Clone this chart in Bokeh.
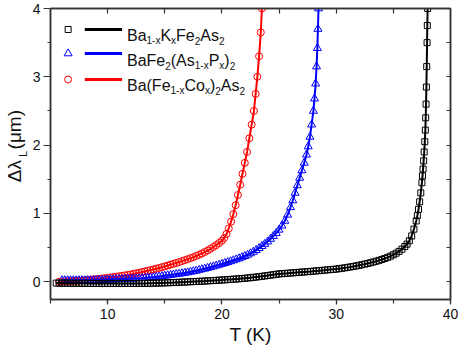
from bokeh.plotting import figure
from bokeh.models import Range1d, LinearAxis, SingleIntervalTicker, FixedTicker
from bokeh.core.properties import value
from bokeh.embed import file_html
from bokeh.resources import INLINE

# ---------------- data ----------------
# Ba1-xKxFe2As2
k_T = [5.5, 5.75, 6.0, 6.25, 6.5, 6.75, 7.0, 7.25, 7.5, 7.75, 8.0, 8.25, 8.5, 8.75, 9.0, 9.25, 9.5, 9.75,
       10.0, 10.25, 10.5, 10.75, 11.0, 11.25, 11.5, 11.75, 12.0, 12.25, 12.5, 12.75, 13.0, 13.25, 13.5, 13.75, 14.0, 14.25, 14.5, 14.75,
       15.0, 15.25, 15.5, 15.75, 16.0, 16.25, 16.5, 16.75, 17.0, 17.25, 17.5, 17.75, 18.0, 18.25, 18.5, 18.75, 19.0, 19.25, 19.5, 19.75,
       20.0, 20.25, 20.5, 20.75, 21.0, 21.25, 21.5, 21.75, 22.0, 22.25, 22.5, 22.75, 23.0, 23.25, 23.5, 23.75, 24.0, 24.25, 24.5, 24.75,
       25.0, 25.25, 25.5, 25.75, 26.0, 26.25, 26.5, 26.75, 27.0, 27.25, 27.5, 27.75, 28.0, 28.25, 28.5, 28.75, 29.0, 29.25, 29.5, 29.75,
       30.0, 30.25, 30.5, 30.75, 31.0, 31.25, 31.5, 31.75, 32.0, 32.25, 32.5, 32.75, 33.0, 33.25, 33.5, 33.75, 34.0, 34.25, 34.5, 34.75,
       35.0, 35.25, 35.5, 35.75, 36.0, 36.2, 36.4, 36.6, 36.8, 37.0, 37.1, 37.2, 37.3, 37.4, 37.5, 37.55, 37.6, 37.65, 37.7,
       37.75, 37.8, 37.83, 37.86, 37.89, 37.92, 37.95, 37.97, 38.0]
k_dl = [-0.02, -0.02, -0.021, -0.021, -0.021, -0.022, -0.022, -0.022, -0.023, -0.023, -0.023, -0.024, -0.024, -0.024, -0.025, -0.025, -0.025, -0.025,
        -0.025, -0.025, -0.025, -0.025, -0.025, -0.025, -0.025, -0.025, -0.025, -0.025, -0.025, -0.025, -0.025, -0.024, -0.023, -0.022, -0.021, -0.02, -0.019, -0.018,
        -0.016, -0.015, -0.013, -0.012, -0.01, -0.008, -0.006, -0.004, -0.002, 0.0, 0.002, 0.004, 0.006, 0.008, 0.01, 0.013, 0.015, 0.018, 0.02, 0.023,
        0.025, 0.028, 0.031, 0.034, 0.037, 0.04, 0.043, 0.047, 0.051, 0.055, 0.059, 0.064, 0.069, 0.074, 0.079, 0.085, 0.091, 0.097, 0.103, 0.109,
        0.115, 0.118, 0.121, 0.124, 0.128, 0.131, 0.134, 0.138, 0.141, 0.144, 0.148, 0.151, 0.155, 0.159, 0.162, 0.166, 0.17, 0.174, 0.178, 0.181,
        0.185, 0.191, 0.197, 0.204, 0.21, 0.217, 0.224, 0.232, 0.24, 0.249, 0.258, 0.268, 0.278, 0.289, 0.3, 0.313, 0.326, 0.341, 0.356, 0.375,
        0.395, 0.418, 0.444, 0.476, 0.515, 0.55, 0.6, 0.67, 0.77, 0.89, 0.97, 1.06, 1.17, 1.3, 1.45, 1.55, 1.65, 1.77, 1.9,
        2.05, 2.22, 2.4, 2.6, 2.85, 3.15, 3.5, 3.75, 4.0]

# BaFe2(As1-xPx)2
p_T = [6.0, 6.25, 6.5, 6.75, 7.0, 7.25, 7.5, 7.75, 8.0, 8.25, 8.5, 8.75, 9.0, 9.25, 9.5, 9.75,
       10.0, 10.25, 10.5, 10.75, 11.0, 11.25, 11.5, 11.75, 12.0, 12.25, 12.5, 12.75, 13.0, 13.25, 13.5, 13.75, 14.0, 14.25, 14.5, 14.75,
       15.0, 15.25, 15.5, 15.75, 16.0, 16.25, 16.5, 16.75, 17.0, 17.25, 17.5, 17.75, 18.0, 18.25, 18.5, 18.75, 19.0, 19.25, 19.5, 19.75,
       20.0, 20.25, 20.5, 20.75, 21.0, 21.25, 21.5, 21.75, 22.0, 22.25, 22.5, 22.75, 23.0, 23.25, 23.5, 23.75, 24.0, 24.25, 24.5, 24.75,
       25.0, 25.25, 25.5, 25.75, 26.0, 26.2, 26.4, 26.6, 26.8, 27.0, 27.2, 27.4, 27.55, 27.7, 27.85, 28.0, 28.1, 28.2,
       28.28, 28.35, 28.4, 28.45]
p_dl = [0.02, 0.02, 0.02, 0.02, 0.02, 0.02, 0.02, 0.02, 0.02, 0.021, 0.022, 0.023, 0.024, 0.025, 0.026, 0.028,
        0.03, 0.032, 0.033, 0.035, 0.037, 0.038, 0.04, 0.041, 0.043, 0.045, 0.047, 0.049, 0.051, 0.054, 0.057, 0.061, 0.065, 0.07, 0.075, 0.08,
        0.086, 0.092, 0.098, 0.104, 0.11, 0.116, 0.122, 0.129, 0.136, 0.144, 0.152, 0.16, 0.172, 0.181, 0.19, 0.201, 0.212, 0.223, 0.235, 0.247,
        0.26, 0.272, 0.285, 0.298, 0.312, 0.326, 0.341, 0.357, 0.374, 0.393, 0.414, 0.437, 0.462, 0.49, 0.52, 0.553, 0.588, 0.626, 0.667, 0.712,
        0.76, 0.82, 0.89, 0.98, 1.09, 1.19, 1.3, 1.41, 1.52, 1.63, 1.74, 1.86, 1.98, 2.12, 2.3, 2.5, 2.68, 2.9,
        3.15, 3.42, 3.7, 4.0]

# Ba(Fe1-xCox)2As2
co_T = [5.75, 6.0, 6.25, 6.5, 6.75, 7.0, 7.25, 7.5, 7.75, 8.0, 8.25, 8.5, 8.75, 9.0, 9.25, 9.5, 9.75,
        10.0, 10.25, 10.5, 10.75, 11.0, 11.25, 11.5, 11.75, 12.0, 12.25, 12.5, 12.75, 13.0, 13.25, 13.5, 13.75, 14.0, 14.25, 14.5, 14.75,
        15.0, 15.25, 15.5, 15.75, 16.0, 16.25, 16.5, 16.75, 17.0, 17.25, 17.5, 17.75, 18.0, 18.25, 18.5, 18.75, 19.0, 19.25, 19.5, 19.75,
        20.0, 20.2, 20.4, 20.6, 20.8, 21.0, 21.2, 21.4, 21.6, 21.8, 22.0, 22.2, 22.4, 22.6, 22.8, 22.95, 23.1, 23.25, 23.4, 23.5]
co_dl = [0.0, 0.002, 0.004, 0.006, 0.008, 0.01, 0.013, 0.016, 0.019, 0.022, 0.026, 0.03, 0.034, 0.038, 0.042, 0.047, 0.052,
         0.057, 0.062, 0.068, 0.074, 0.08, 0.086, 0.093, 0.1, 0.107, 0.115, 0.123, 0.132, 0.141, 0.15, 0.16, 0.17, 0.18, 0.191, 0.202, 0.213,
         0.225, 0.237, 0.25, 0.262, 0.275, 0.288, 0.302, 0.316, 0.33, 0.345, 0.36, 0.377, 0.395, 0.414, 0.435, 0.458, 0.482, 0.508, 0.536, 0.567,
         0.6, 0.64, 0.7, 0.78, 0.88, 0.99, 1.12, 1.27, 1.42, 1.58, 1.74, 1.9, 2.1, 2.3, 2.5, 2.75, 3.0, 3.3, 3.65, 4.0]

top_ticks = [10, 15, 20, 25, 30, 35]
right_ticks = [0, 0.5, 1, 1.5, 2, 2.5, 3, 3.5]

# legend labels as (text, is_subscript) pieces
leg_k = [("Ba", 0), ("1-x", 1), ("K", 0), ("x", 1), ("Fe", 0), ("2", 1), ("As", 0), ("2", 1)]
leg_p = [("BaFe", 0), ("2", 1), ("(As", 0), ("1-x", 1), ("P", 0), ("x", 1), (")", 0), ("2", 1)]
leg_co = [("Ba(Fe", 0), ("1-x", 1), ("Co", 0), ("x", 1), (")", 0), ("2", 1), ("As", 0), ("2", 1)]

NB = "\u00a0"
y_label_main = NB * 3 + "Δλ" + NB * 2 + "(μm)"
y_label_sub = "L"
x_label = "T (K)"

# ---------------- layout / style ----------------
FONT = "Liberation Sans"
WIDTH, HEIGHT = 458, 347
BL, BR, BT, BB = 42, 8, 8, 48
FW, FH = WIDTH - BL - BR, HEIGHT - BT - BB
X0, X1 = 5, 40
Y0, Y1 = -0.26, 4
PXX = FW / (X1 - X0)
PXY = FH / (Y1 - Y0)
TXT = "#111111"
AX = "#333333"
BLUE = "#0000ff"
RED = "#ff0000"

def dx(px):
    return X0 + px / PXX

def dy(px_from_top):
    return Y1 - px_from_top / PXY

p = figure(width=WIDTH, height=HEIGHT,
           x_range=Range1d(X0, X1), y_range=Range1d(Y0, Y1),
           output_backend="svg", toolbar_location=None,
           min_border_left=BL - 1, min_border_right=BR, min_border_top=BT, min_border_bottom=BB)
p.background_fill_color = "white"
p.border_fill_color = "white"
p.outline_line_color = AX
p.outline_line_width = 1.5
p.xgrid.visible = False
p.ygrid.visible = False

xa = p.xaxis[0]
xa.ticker = SingleIntervalTicker(interval=10, num_minor_ticks=2)
xa.major_tick_out = 5
xa.major_tick_in = 0
xa.minor_tick_out = 4
xa.minor_tick_in = 0
xa.major_label_standoff = 4
xa.axis_label = x_label
xa.axis_label_standoff = 2
xa.axis_label_text_font_size = "19px"

ya = p.yaxis[0]
ya.ticker = SingleIntervalTicker(interval=1, num_minor_ticks=2)
ya.major_tick_out = 7
ya.major_tick_in = 0
ya.minor_tick_out = 3
ya.minor_tick_in = 0
ya.major_label_standoff = 3
ya.axis_label = y_label_sub
ya.axis_label_standoff = 1
ya.axis_label_text_font_size = "11px"

for a in (xa, ya):
    a.axis_line_color = AX
    a.axis_line_width = 1.5
    a.major_tick_line_color = AX
    a.minor_tick_line_color = AX
    a.major_tick_line_width = 1.2
    a.minor_tick_line_width = 1.2
    a.major_label_text_font = FONT
    a.major_label_text_font_size = "14px"
    a.major_label_text_color = TXT
    a.axis_label_text_font = FONT
    a.axis_label_text_font_style = "normal"
    a.axis_label_text_color = TXT

# outer left axis carrying the main part of the y label
ya2 = LinearAxis(ticker=FixedTicker(ticks=[]), axis_line_color=None,
                 major_tick_in=0, major_tick_out=0, minor_tick_in=0, minor_tick_out=0,
                 major_label_standoff=0, axis_label=y_label_main, axis_label_standoff=-11,
                 axis_label_text_font=FONT, axis_label_text_font_size="19px",
                 axis_label_text_font_style="normal", axis_label_text_color=TXT)
p.add_layout(ya2, "left")

# mirror ticks (inward) on the top and right edges, as minor ticks so no labels are drawn
top = LinearAxis(ticker=FixedTicker(ticks=[], minor_ticks=top_ticks),
                 major_tick_in=0, major_tick_out=0, minor_tick_in=5, minor_tick_out=0,
                 major_label_standoff=0, axis_line_color=AX, axis_line_width=1.5,
                 minor_tick_line_color=AX, minor_tick_line_width=1.2)
p.add_layout(top, "above")
right = LinearAxis(ticker=FixedTicker(ticks=[], minor_ticks=right_ticks),
                   major_tick_in=0, major_tick_out=0, minor_tick_in=4, minor_tick_out=0,
                   major_label_standoff=0, axis_line_color=AX, axis_line_width=1.5,
                   minor_tick_line_color=AX, minor_tick_line_width=1.2)
p.add_layout(right, "right")

# ---------------- data glyphs ----------------
p.scatter(co_T, co_dl, marker="circle", size=7, fill_color=None, line_color=RED, line_width=1)
p.line(co_T, co_dl, line_color=RED, line_width=2)
p.scatter(p_T, p_dl, marker="triangle", size=8, fill_color=None, line_color=BLUE, line_width=1)
p.line(p_T, p_dl, line_color=BLUE, line_width=2)
p.scatter(k_T, k_dl, marker="square", size=6, fill_color=None, line_color="black", line_width=1)
p.line(k_T, k_dl, line_color="black", line_width=2)

# ---------------- legend (manual, with subscripts) ----------------
W = {"B": 667, "a": 556, "K": 667, "F": 611, "e": 556, "A": 667, "s": 500, "(": 333,
     ")": 333, "P": 667, "C": 722, "o": 556, "1": 556, "-": 333, "x": 500, "2": 556}
rows = [(leg_k, "square", "black", 6), (leg_p, "triangle", BLUE, 8), (leg_co, "circle", RED, 7)]
row_mid = [21, 45, 71]     # px from frame top
row_base = [27, 52, 77]
N_SIZE, S_SIZE = 16, 10
for (pieces, mk, col, ms), mid, base in zip(rows, row_mid, row_base):
    p.scatter([dx(18)], [dy(mid)], marker=mk, size=ms, fill_color=None, line_color=col, line_width=1)
    p.line([dx(35), dx(73)], [dy(mid), dy(mid)], line_color=col, line_width=3)
    cur = 0.0
    nt, no, st, so = [], [], [], []
    for s, sub in pieces:
        size = S_SIZE if sub else N_SIZE
        if sub:
            st.append(s); so.append(cur)
        else:
            nt.append(s); no.append(cur)
        cur += sum(W[c] for c in s) * size / 1000.0
    p.text(x=[dx(78)] * len(nt), y=[dy(base)] * len(nt), text=nt, x_offset=no,
           text_font=value(FONT), text_font_size="16px", text_color=TXT,
           text_align="left", text_baseline="alphabetic")
    p.text(x=[dx(78)] * len(st), y=[dy(base + 5)] * len(st), text=st, x_offset=so,
           text_font=value(FONT), text_font_size="10px", text_color=TXT,
           text_align="left", text_baseline="alphabetic")

open("out.html", "w").write(file_html(p, INLINE))
